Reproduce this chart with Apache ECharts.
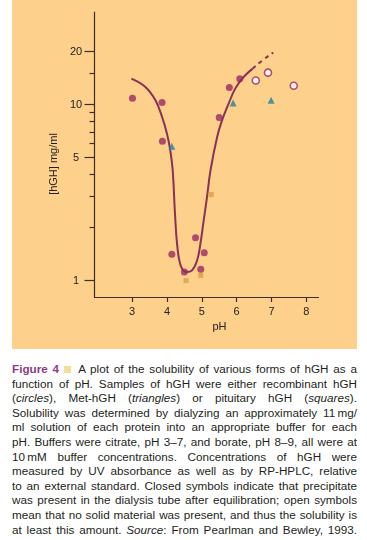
<!DOCTYPE html>
<html>
<head>
<meta charset="utf-8">
<script src="https://cdn.jsdelivr.net/npm/echarts@6/dist/echarts.min.js"></script>
<style>
  html, body { margin: 0; padding: 0; background: #ffffff; width: 367px; height: 540px; overflow: hidden; }
  #panel { position: absolute; left: 12px; top: 0; width: 345px; height: 349px; background: #FDD08C; }
  #chart { position: absolute; left: 0; top: 0; width: 367px; height: 350px; }
  #caption { position: absolute; left: 12px; top: 362px; width: 345px; font-family: "Liberation Sans", Arial, sans-serif; font-size: 11.7px; line-height: 14.6px; color: #231F20; }
  #caption .ln { white-space: nowrap; height: 14.6px; }
  #caption .fig { font-weight: bold; color: #8E3B86; }
  #caption .sq { display: inline-block; width: 7px; height: 7px; background: #F9DB98; margin: 0 3px 0 5px; vertical-align: 0px; }
</style>
</head>
<body>
<div id="panel"></div>
<div id="chart"></div>
<div id="caption">
  <div class="ln"><span class="in"><span class="fig">Figure 4</span><span class="sq"></span> A plot of the solubility of various forms of hGH as a</span></div>
  <div class="ln"><span class="in">function of pH. Samples of hGH were either recombinant hGH</span></div>
  <div class="ln"><span class="in">(<i>circles</i>), Met-hGH (<i>triangles</i>) or pituitary hGH (<i>squares</i>).</span></div>
  <div class="ln"><span class="in">Solubility was determined by dialyzing an approximately 11&#8201;mg/</span></div>
  <div class="ln"><span class="in">ml solution of each protein into an appropriate buffer for each</span></div>
  <div class="ln"><span class="in">pH. Buffers were citrate, pH 3–7, and borate, pH 8–9, all were at</span></div>
  <div class="ln"><span class="in">10&#8201;mM buffer concentrations. Concentrations of hGH were</span></div>
  <div class="ln"><span class="in">measured by UV absorbance as well as by RP-HPLC, relative</span></div>
  <div class="ln"><span class="in">to an external standard. Closed symbols indicate that precipitate</span></div>
  <div class="ln"><span class="in">was present in the dialysis tube after equilibration; open symbols</span></div>
  <div class="ln"><span class="in">mean that no solid material was present, and thus the solubility is</span></div>
  <div class="ln"><span class="in">at least this amount. <i>Source</i>: From Pearlman and Bewley, 1993.</span></div>
</div>
<script>
// ---- data (pH, [hGH] mg/ml) ----
const curvePH   = [2.98, 3.38, 3.67, 3.86, 4.00, 4.095, 4.165, 4.23, 4.30, 4.40, 4.56, 4.72, 4.865, 4.96, 5.055, 5.15, 5.25, 5.44, 5.58, 5.77, 5.96, 6.20, 6.46];
const curveConc = [14.05, 12.6, 10.58, 8.50, 6.84, 5.50, 4.23, 2.41, 1.55, 1.21, 1.12, 1.144, 1.30, 1.62, 2.20, 2.99, 4.23, 6.55, 8.14, 10.13, 12.33, 14.35, 16.02];
const dashPH    = [6.46, 6.75, 7.05];
const dashConc  = [16.02, 17.9, 19.75];
const circlePH   = [3.01, 3.86, 3.87, 4.14, 4.50, 4.82, 5.07, 4.97, 5.50, 5.79, 6.09];
const circleConc = [10.86, 10.27, 6.19, 1.41, 1.12, 1.75, 1.44, 1.16, 8.44, 12.5, 14.05];
const openPH     = [6.55, 6.90, 7.64];
const openConc   = [13.7, 15.2, 12.8];
const triPH      = [4.14, 5.90, 6.99];
const triConc    = [5.8, 10.2, 10.6];
const sqPH       = [4.55, 4.97, 5.27];
const sqConc     = [1.0, 1.07, 3.08];
const xTicks      = [3, 4, 5, 6, 7, 8];
const yTickLabels = [1, 5, 10, 20];
const yMinorTicks = [2, 3, 4, 6, 7, 8, 9, 15];
const yAxisTitle  = '[hGH] mg/ml';
const xAxisTitle  = 'pH';

const L = Math.log10;
const pts = (xs, ys) => xs.map((x, i) => [x, L(ys[i])]);

const chart = echarts.init(document.getElementById('chart'), null, { renderer: 'canvas' });
const axisColor = '#3a3028';
const yMin = L(0.807), yMax = L(33.6);

chart.setOption({
  animation: false,
  backgroundColor: 'transparent',
  grid: { left: 94.5, top: 12, width: 224, height: 285, containLabel: false },
  graphic: [{
    type: 'text', x: 54, y: 164, rotation: Math.PI / 2, silent: true,
    style: { text: yAxisTitle, align: 'center', verticalAlign: 'middle',
      fontFamily: 'Liberation Sans', fontSize: 11, fill: '#222' }
  }],
  xAxis: {
    type: 'value', min: 1.92, max: 8.35,
    name: xAxisTitle, nameLocation: 'middle', nameGap: 24,
    nameTextStyle: { fontFamily: 'Liberation Sans', fontSize: 11, color: '#222', padding: [0, 0, 0, 26] },
    axisLine: { show: true, onZero: false, lineStyle: { color: axisColor, width: 1.2 } },
    axisTick: { show: true, length: 5, customValues: xTicks, lineStyle: { color: axisColor, width: 1.2 } },
    axisLabel: { customValues: xTicks, margin: 9, fontFamily: 'Liberation Sans', fontSize: 11, color: '#222' },
    splitLine: { show: false }
  },
  yAxis: [{
    type: 'value', min: yMin, max: yMax,
    axisLine: { show: true, onZero: false, lineStyle: { color: axisColor, width: 1.2 } },
    axisTick: { show: true, length: 10, customValues: yTickLabels.map(L), lineStyle: { color: axisColor, width: 1.2 } },
    axisLabel: { customValues: yTickLabels.map(L), margin: 18.5, align: 'center',
      formatter: v => String(Math.round(Math.pow(10, v))),
      fontFamily: 'Liberation Sans', fontSize: 11, color: '#222' },
    splitLine: { show: false }
  }, {
    type: 'value', min: yMin, max: yMax, position: 'left',
    axisLine: { show: false },
    axisTick: { show: true, length: 5, customValues: yMinorTicks.map(L), lineStyle: { color: axisColor, width: 1.2 } },
    axisLabel: { show: false },
    splitLine: { show: false }
  }],
  series: [
    { type: 'line', data: pts(curvePH, curveConc), smooth: 0.4, symbol: 'none',
      lineStyle: { color: '#8A3156', width: 2 }, silent: true, z: 2 },
    { type: 'line', data: pts(dashPH, dashConc), smooth: true, symbol: 'none',
      lineStyle: { color: '#8A3156', width: 2, type: [4, 4] }, silent: true, z: 2 },
    { type: 'scatter', data: pts(sqPH, sqConc), symbol: 'rect', symbolSize: 5,
      itemStyle: { color: '#D6A043' }, z: 3 },
    { type: 'scatter', data: pts(triPH, triConc), symbol: 'triangle', symbolSize: 7,
      itemStyle: { color: '#2A7F9B' }, z: 3 },
    { type: 'scatter', data: pts(circlePH, circleConc), symbol: 'circle', symbolSize: 7,
      itemStyle: { color: '#9A2862' }, z: 4 },
    { type: 'scatter', data: pts(openPH, openConc), symbol: 'circle', symbolSize: 7,
      itemStyle: { color: '#ffffff', borderColor: '#9A2862', borderWidth: 1.6 }, z: 4 }
  ]
});

// justify caption lines to full width by adjusting word spacing
const W = 345;
document.querySelectorAll('#caption .ln').forEach(ln => {
  const inner = ln.querySelector('.in');
  const w = inner.getBoundingClientRect().width;
  const spaces = (inner.textContent.match(/ /g) || []).length;
  if (spaces > 0) inner.style.wordSpacing = ((W - w) / spaces) + 'px';
});
</script>
</body>
</html>
